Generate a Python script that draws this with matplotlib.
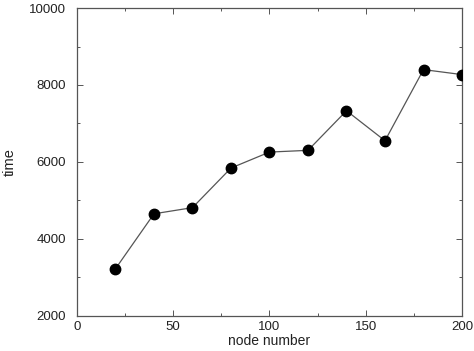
import matplotlib
matplotlib.use("Agg")
import matplotlib.pyplot as plt
from matplotlib.ticker import MultipleLocator

nodes = [20, 40, 60, 80, 100, 120, 140, 160, 180, 200]
times = [3220, 4650, 4810, 5840, 6255, 6300, 7330, 6550, 8400, 8270]
xticks = [0, 50, 100, 150, 200]
yticks = [2000, 4000, 6000, 8000, 10000]

plt.rcParams['font.family'] = ['Liberation Sans', 'DejaVu Sans']
fig = plt.figure(figsize=(4.74, 3.51), dpi=100)
ax = fig.add_axes([0.1624, 0.1006, 0.8123, 0.8764])
ax.plot(nodes, times, color='#555555', lw=0.9, marker='o', ms=7.5,
        mfc='black', mec='black', zorder=3)
ax.set_xlim(0, 200)
ax.set_ylim(2000, 10000)
ax.set_xticks(xticks)
ax.set_yticks(yticks)
ax.xaxis.set_minor_locator(MultipleLocator(25))
ax.yaxis.set_minor_locator(MultipleLocator(1000))
ax.tick_params(which='both', direction='in', top=True, right=True,
               color='#555555', labelsize=9.5, labelcolor='#222222')
ax.tick_params(which='major', length=4, width=0.7)
ax.tick_params(which='minor', length=2.5, width=0.7)
ax.tick_params(axis='x', pad=4)
ax.tick_params(axis='y', pad=8)
for s in ax.spines.values():
    s.set_color('#555555')
    s.set_linewidth(0.9)
ax.set_xlabel('node number', fontsize=10, color='#222222', labelpad=0.5)
ax.set_ylabel('time', fontsize=10.5, color='#222222', labelpad=9)
fig.savefig('out.png', dpi=100)
